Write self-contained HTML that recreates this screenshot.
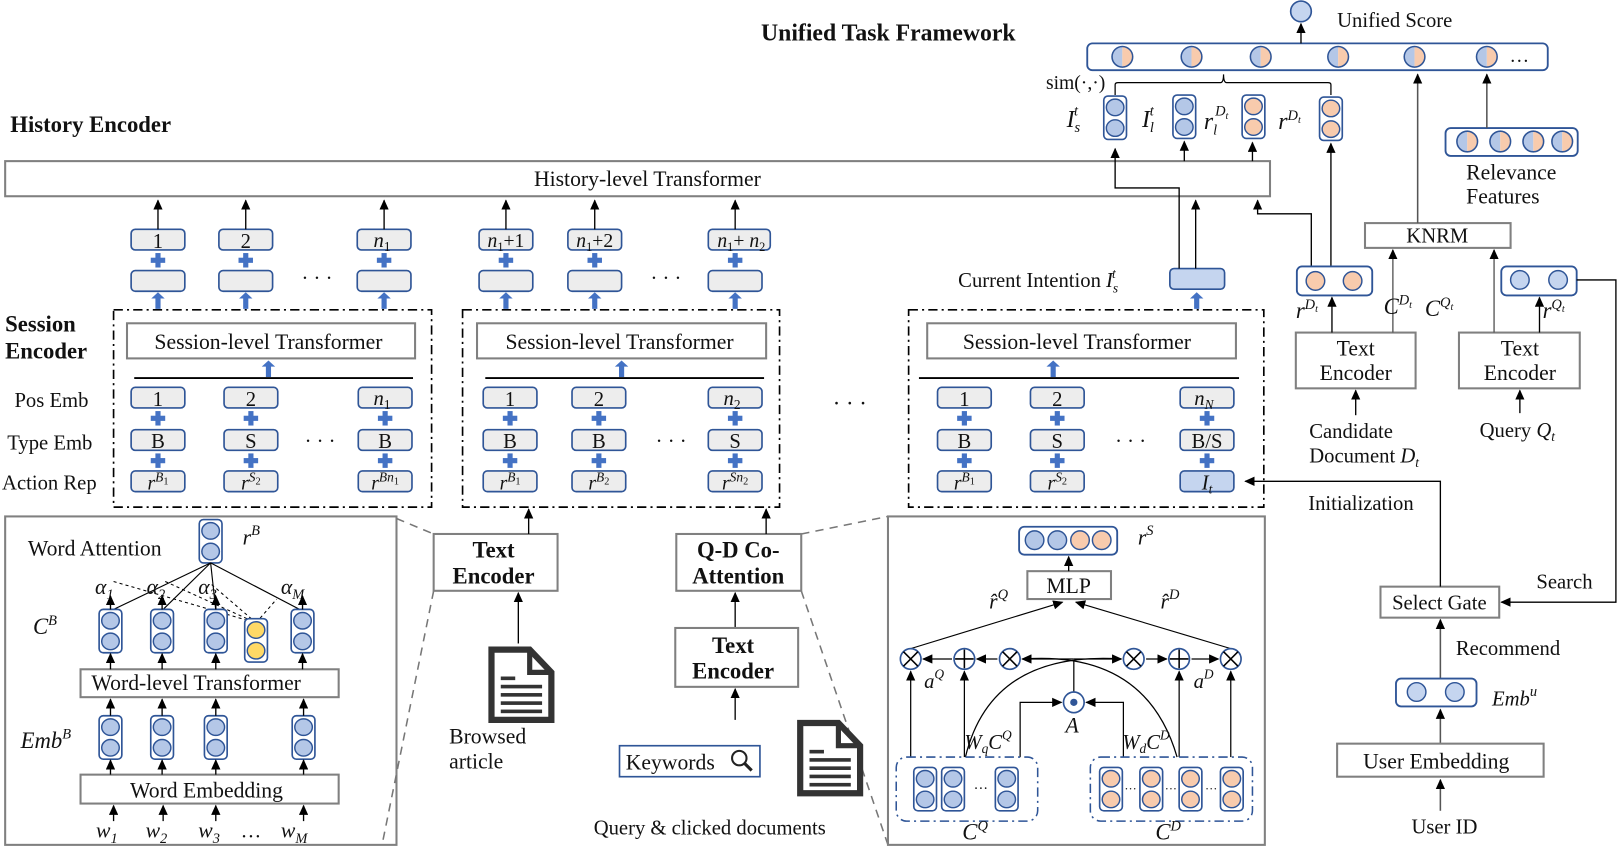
<!DOCTYPE html>
<html><head><meta charset="utf-8"><style>
html,body{margin:0;padding:0;background:#fff;}
svg{display:block;}
text{font-family:"Liberation Serif",serif;fill:#111;}
.i{font-style:italic;}
.b{font-weight:bold;}
</style></head><body>
<svg width="1619" height="849" viewBox="0 0 1568 822" preserveAspectRatio="none" xmlns="http://www.w3.org/2000/svg">
<defs>
<marker id="ar" markerWidth="10" markerHeight="9" refX="9" refY="4.5" orient="auto" markerUnits="userSpaceOnUse"><path d="M0,0 L10,4.5 L0,9 Z" fill="#000"/></marker>
<g id="vb"><rect x="-11" y="-21" width="22" height="42" rx="4" fill="#fff" stroke="#2f5597" stroke-width="1.6"/><ellipse cx="0" cy="-10" rx="8.5" ry="8" fill="#b4c7e7" stroke="#2f5597" stroke-width="1.4"/><ellipse cx="0" cy="10" rx="8.5" ry="8" fill="#b4c7e7" stroke="#2f5597" stroke-width="1.4"/></g>
<g id="vo"><rect x="-11" y="-21" width="22" height="42" rx="4" fill="#fff" stroke="#2f5597" stroke-width="1.6"/><ellipse cx="0" cy="-10" rx="8.5" ry="8" fill="#f8cbad" stroke="#2f5597" stroke-width="1.4"/><ellipse cx="0" cy="10" rx="8.5" ry="8" fill="#f8cbad" stroke="#2f5597" stroke-width="1.4"/></g>
<g id="vy"><rect x="-11" y="-21" width="22" height="42" rx="4" fill="#fff" stroke="#2f5597" stroke-width="1.6"/><ellipse cx="0" cy="-10" rx="8.5" ry="8" fill="#ffd966" stroke="#2f5597" stroke-width="1.4"/><ellipse cx="0" cy="10" rx="8.5" ry="8" fill="#ffd966" stroke="#2f5597" stroke-width="1.4"/></g>
<g id="hc"><path d="M0,-10 A10,10 0 0 0 0,10 Z" fill="#b4c7e7"/><path d="M0,-10 A10,10 0 0 1 0,10 Z" fill="#f8cbad"/><circle r="10" fill="none" stroke="#2f5597" stroke-width="1.5"/></g>
<g id="pl"><rect x="-7" y="-2.5" width="14" height="5" fill="#4472c4"/><rect x="-2.5" y="-7" width="5" height="14" fill="#4472c4"/></g>
<g id="ba"><path d="M-2.5,16 L-2.5,6 L-6.5,6 L0,0 L6.5,6 L2.5,6 L2.5,16 Z" fill="#4472c4"/></g>
<g id="tk"><rect x="-26" y="-10" width="52" height="20" rx="4" fill="#ededed" stroke="#2f5597" stroke-width="1.6"/></g>
<g id="tkw"><rect x="-30" y="-10" width="60" height="20" rx="4" fill="#ededed" stroke="#2f5597" stroke-width="1.6"/></g>
<g id="doc"><path d="M3,3 L40,3 L61,25 L61,71 L3,71 Z" fill="#fff" stroke="#333" stroke-width="6"/><path d="M40,3 L40,25 L61,25" fill="none" stroke="#333" stroke-width="5"/><rect x="12" y="29" width="14" height="3.5" fill="#333"/><rect x="12" y="37" width="40" height="3.5" fill="#333"/><rect x="12" y="45" width="40" height="3.5" fill="#333"/><rect x="12" y="53" width="40" height="3.5" fill="#333"/><rect x="12" y="61" width="40" height="3.5" fill="#333"/></g>
<g id="ot"><circle r="10" fill="#fff" stroke="#2f5597" stroke-width="1.6"/><path d="M-7,-7 L7,7 M7,-7 L-7,7" stroke="#000" stroke-width="1.5"/></g>
<g id="op"><circle r="10" fill="#fff" stroke="#2f5597" stroke-width="1.6"/><path d="M-9,0 L9,0 M0,-9 L0,9" stroke="#000" stroke-width="1.5"/></g>
</defs>

<!-- Titles -->
<text x="737" y="39" font-size="23" class="b">Unified Task Framework</text>
<text x="10" y="128" font-size="22" class="b">History Encoder</text>
<text x="5" y="321" font-size="22" class="b">Session</text>
<text x="5" y="347" font-size="22" class="b">Encoder</text>

<!-- History-level transformer -->
<rect x="5" y="156" width="1225" height="34" fill="#fff" stroke="#808080" stroke-width="2"/>
<text x="627" y="180" font-size="21" text-anchor="middle">History-level Transformer</text>

<!-- Group 1 tokens -->
<g>
<use href="#tk" x="153" y="232"/><use href="#tk" x="238" y="232"/><use href="#tk" x="372" y="232"/>
<use href="#pl" x="153" y="252"/><use href="#pl" x="238" y="252"/><use href="#pl" x="372" y="252"/>
<use href="#tk" x="153" y="272"/><use href="#tk" x="238" y="272"/><use href="#tk" x="372" y="272"/>
<use href="#ba" x="153" y="283"/><use href="#ba" x="238" y="283"/><use href="#ba" x="372" y="283"/>
<text x="153" y="240" font-size="20" text-anchor="middle">1</text>
<text x="238" y="240" font-size="20" text-anchor="middle">2</text>
<text x="370" y="239" font-size="20" text-anchor="middle"><tspan class="i">n</tspan><tspan font-size="13" dy="4">1</tspan></text>
<text x="307" y="276" font-size="20" text-anchor="middle">· · ·</text>
<use href="#tk" x="490" y="232"/><use href="#tk" x="576" y="232"/><use href="#tkw" x="716" y="232"/>
<use href="#pl" x="490" y="252"/><use href="#pl" x="576" y="252"/><use href="#pl" x="712" y="252"/>
<use href="#tk" x="490" y="272"/><use href="#tk" x="576" y="272"/><use href="#tk" x="712" y="272"/>
<use href="#ba" x="490" y="283"/><use href="#ba" x="576" y="283"/><use href="#ba" x="712" y="283"/>
<text x="490" y="239" font-size="19" text-anchor="middle"><tspan class="i">n</tspan><tspan font-size="12" dy="4">1</tspan><tspan dy="-4">+1</tspan></text>
<text x="576" y="239" font-size="19" text-anchor="middle"><tspan class="i">n</tspan><tspan font-size="12" dy="4">1</tspan><tspan dy="-4">+2</tspan></text>
<text x="718" y="239" font-size="19" text-anchor="middle"><tspan class="i">n</tspan><tspan font-size="12" dy="4">1</tspan><tspan dy="-4">+ </tspan><tspan class="i">n</tspan><tspan font-size="12" dy="4">2</tspan></text>
<text x="645" y="276" font-size="20" text-anchor="middle">· · ·</text>
<g stroke="#000" stroke-width="1.3" marker-end="url(#ar)">
<line x1="153" y1="222" x2="153" y2="194"/><line x1="238" y1="222" x2="238" y2="194"/><line x1="372" y1="222" x2="372" y2="194"/>
<line x1="490" y1="222" x2="490" y2="194"/><line x1="576" y1="222" x2="576" y2="194"/><line x1="712" y1="222" x2="712" y2="194"/>
</g>
</g>

<!-- Session boxes -->
<g fill="none" stroke="#000" stroke-width="1.6" stroke-dasharray="9,4,2,4">
<rect x="110" y="300" width="308" height="191"/>
<rect x="448" y="300" width="307" height="191"/>
<rect x="880" y="300" width="344" height="191"/>
</g>
<g fill="#fff" stroke="#808080" stroke-width="2">
<rect x="123" y="313" width="279" height="34"/>
<rect x="462" y="313" width="280" height="34"/>
<rect x="898" y="313" width="299" height="34"/>
</g>
<text x="260" y="338" font-size="21" text-anchor="middle">Session-level Transformer</text>
<text x="600" y="338" font-size="21" text-anchor="middle">Session-level Transformer</text>
<text x="1043" y="338" font-size="21" text-anchor="middle">Session-level Transformer</text>
<g stroke="#000" stroke-width="1.8"><line x1="130" y1="366" x2="400" y2="366"/><line x1="470" y1="366" x2="740" y2="366"/><line x1="890" y1="366" x2="1200" y2="366"/></g>
<use href="#ba" x="260" y="349"/><use href="#ba" x="602" y="349"/><use href="#ba" x="1020" y="349"/>
<text x="14" y="394" font-size="20">Pos  Emb</text>
<text x="7" y="435" font-size="20">Type Emb</text>
<text x="2" y="474" font-size="20">Action Rep</text>

<!-- session 1 columns -->
<g>
<use href="#tk" x="153" y="385"/><use href="#tk" x="243" y="385"/><use href="#tk" x="373" y="385"/>
<use href="#pl" x="153" y="405"/><use href="#pl" x="243" y="405"/><use href="#pl" x="373" y="405"/>
<use href="#tk" x="153" y="426"/><use href="#tk" x="243" y="426"/><use href="#tk" x="373" y="426"/>
<use href="#pl" x="153" y="446"/><use href="#pl" x="243" y="446"/><use href="#pl" x="373" y="446"/>
<use href="#tk" x="153" y="466"/><use href="#tk" x="243" y="466"/><use href="#tk" x="373" y="466"/>
<text x="153" y="393" font-size="20" text-anchor="middle">1</text>
<text x="243" y="393" font-size="20" text-anchor="middle">2</text>
<text x="370" y="392" font-size="20" text-anchor="middle"><tspan class="i">n</tspan><tspan font-size="13" dy="4">1</tspan></text>
<text x="153" y="434" font-size="20" text-anchor="middle">B</text>
<text x="243" y="434" font-size="20" text-anchor="middle">S</text>
<text x="373" y="434" font-size="20" text-anchor="middle">B</text>
<text x="153" y="474" font-size="19" text-anchor="middle"><tspan class="i">r</tspan><tspan font-size="13" dy="-8" class="i">B</tspan><tspan font-size="10" dy="3">1</tspan></text>
<text x="243" y="474" font-size="19" text-anchor="middle"><tspan class="i">r</tspan><tspan font-size="13" dy="-8" class="i">S</tspan><tspan font-size="10" dy="3">2</tspan></text>
<text x="373" y="474" font-size="19" text-anchor="middle"><tspan class="i">r</tspan><tspan font-size="13" dy="-8" class="i">Bn</tspan><tspan font-size="10" dy="3">1</tspan></text>
<text x="310" y="434" font-size="20" text-anchor="middle">· · ·</text>
</g>
<!-- session 2 -->
<g>
<use href="#tk" x="494" y="385"/><use href="#tk" x="580" y="385"/><use href="#tk" x="712" y="385"/>
<use href="#pl" x="494" y="405"/><use href="#pl" x="580" y="405"/><use href="#pl" x="712" y="405"/>
<use href="#tk" x="494" y="426"/><use href="#tk" x="580" y="426"/><use href="#tk" x="712" y="426"/>
<use href="#pl" x="494" y="446"/><use href="#pl" x="580" y="446"/><use href="#pl" x="712" y="446"/>
<use href="#tk" x="494" y="466"/><use href="#tk" x="580" y="466"/><use href="#tk" x="712" y="466"/>
<text x="494" y="393" font-size="20" text-anchor="middle">1</text>
<text x="580" y="393" font-size="20" text-anchor="middle">2</text>
<text x="709" y="392" font-size="20" text-anchor="middle"><tspan class="i">n</tspan><tspan font-size="13" dy="4">2</tspan></text>
<text x="494" y="434" font-size="20" text-anchor="middle">B</text>
<text x="580" y="434" font-size="20" text-anchor="middle">B</text>
<text x="712" y="434" font-size="20" text-anchor="middle">S</text>
<text x="494" y="474" font-size="19" text-anchor="middle"><tspan class="i">r</tspan><tspan font-size="13" dy="-8" class="i">B</tspan><tspan font-size="10" dy="3">1</tspan></text>
<text x="580" y="474" font-size="19" text-anchor="middle"><tspan class="i">r</tspan><tspan font-size="13" dy="-8" class="i">B</tspan><tspan font-size="10" dy="3">2</tspan></text>
<text x="712" y="474" font-size="19" text-anchor="middle"><tspan class="i">r</tspan><tspan font-size="13" dy="-8" class="i">Sn</tspan><tspan font-size="10" dy="3">2</tspan></text>
<text x="650" y="434" font-size="20" text-anchor="middle">· · ·</text>
</g>
<!-- session 3 -->
<g>
<use href="#tk" x="934" y="385"/><use href="#tk" x="1024" y="385"/><use href="#tk" x="1169" y="385"/>
<use href="#pl" x="934" y="405"/><use href="#pl" x="1024" y="405"/><use href="#pl" x="1169" y="405"/>
<use href="#tk" x="934" y="426"/><use href="#tk" x="1024" y="426"/><use href="#tk" x="1169" y="426"/>
<use href="#pl" x="934" y="446"/><use href="#pl" x="1024" y="446"/><use href="#pl" x="1169" y="446"/>
<use href="#tk" x="934" y="466"/><use href="#tk" x="1024" y="466"/>
<rect x="1143" y="456" width="52" height="20" rx="4" fill="#c5d5ef" stroke="#2f5597" stroke-width="1.6"/>
<text x="934" y="393" font-size="20" text-anchor="middle">1</text>
<text x="1024" y="393" font-size="20" text-anchor="middle">2</text>
<text x="1166" y="392" font-size="20" text-anchor="middle"><tspan class="i">n</tspan><tspan font-size="13" dy="4" class="i">N</tspan></text>
<text x="934" y="434" font-size="20" text-anchor="middle">B</text>
<text x="1024" y="434" font-size="20" text-anchor="middle">S</text>
<text x="1169" y="434" font-size="20" text-anchor="middle">B/S</text>
<text x="934" y="474" font-size="19" text-anchor="middle"><tspan class="i">r</tspan><tspan font-size="13" dy="-8" class="i">B</tspan><tspan font-size="10" dy="3">1</tspan></text>
<text x="1024" y="474" font-size="19" text-anchor="middle"><tspan class="i">r</tspan><tspan font-size="13" dy="-8" class="i">S</tspan><tspan font-size="10" dy="3">2</tspan></text>
<text x="1169" y="474" font-size="20" text-anchor="middle"><tspan class="i">I</tspan><tspan font-size="13" dy="4" class="i">t</tspan></text>
<text x="1095" y="434" font-size="20" text-anchor="middle">· · ·</text>
</g>
<text x="823" y="398" font-size="22" text-anchor="middle">· · ·</text>

<!-- Current intention -->
<text x="928" y="278" font-size="20">Current Intention <tspan class="i">I</tspan><tspan font-size="13" dy="5" class="i">s</tspan><tspan font-size="13" dx="-6" dy="-14" class="i">t</tspan></text>
<rect x="1133" y="260" width="53" height="20" rx="4" fill="#c5d5ef" stroke="#2f5597" stroke-width="1.6"/>
<use href="#ba" x="1159" y="283"/>
<g stroke="#000" stroke-width="1.3" fill="none">
<path d="M1142,260 L1142,182 L1080,182 L1080,144" marker-end="url(#ar)"/>
<path d="M1158,260 L1158,194" marker-end="url(#ar)"/>
<path d="M1147,156 L1147,137" marker-end="url(#ar)"/>
<path d="M1213,156 L1213,138" marker-end="url(#ar)"/>
<path d="M1270,258 L1270,207 L1218,207 L1218,194" marker-end="url(#ar)"/>
<path d="M1289,258 L1289,139" marker-end="url(#ar)"/>
</g>

<!-- Top right vectors -->
<use href="#vb" x="1080" y="114"/>
<use href="#vb" x="1147" y="113"/>
<use href="#vo" x="1214" y="113"/>
<use href="#vo" x="1289" y="115"/>
<text x="1033" y="123" font-size="23" class="i">I<tspan font-size="14" dy="5">s</tspan><tspan font-size="14" dx="-6" dy="-16">t</tspan></text>
<text x="1106" y="123" font-size="23" class="i">I<tspan font-size="14" dy="5">l</tspan><tspan font-size="14" dx="-4" dy="-16">t</tspan></text>
<text x="1166" y="125" font-size="23" class="i">r<tspan font-size="14" dy="5">l</tspan><tspan font-size="14" dx="-2" dy="-18">D</tspan><tspan font-size="10" dy="3">t</tspan></text>
<text x="1238" y="125" font-size="23" class="i">r<tspan font-size="14" dy="-9">D</tspan><tspan font-size="10" dy="3">t</tspan></text>
<path d="M1080,92 L1080,82 Q1080,80 1083,80 L1182,80 Q1185,80 1185,72 Q1185,80 1188,80 L1286,80 Q1289,80 1289,82 L1289,92" fill="none" stroke="#000" stroke-width="1.2"/>
<text x="1013" y="86" font-size="19">sim(·,·)</text>

<!-- Unified score row -->
<rect x="1053" y="42" width="446" height="26" rx="5" fill="#fff" stroke="#2f5597" stroke-width="1.8"/>
<use href="#hc" x="1087" y="55"/><use href="#hc" x="1154" y="55"/><use href="#hc" x="1221" y="55"/><use href="#hc" x="1296" y="55"/><use href="#hc" x="1370" y="55"/><use href="#hc" x="1440" y="55"/>
<text x="1462" y="60" font-size="19">…</text>
<circle cx="1260" cy="11" r="10" fill="#c5d5ef" stroke="#2f5597" stroke-width="1.6"/>
<line x1="1260" y1="42" x2="1260" y2="23" stroke="#000" stroke-width="1.3" marker-end="url(#ar)"/>
<text x="1295" y="26" font-size="20">Unified Score</text>

<!-- KNRM / relevance -->
<rect x="1322" y="216" width="141" height="24" fill="#fff" stroke="#808080" stroke-width="2"/>
<text x="1392" y="235" font-size="20" text-anchor="middle">KNRM</text>
<line x1="1373" y1="216" x2="1373" y2="72" stroke="#555" stroke-width="1.5" marker-end="url(#ar)"/>
<rect x="1400" y="124" width="128" height="27" rx="5" fill="#fff" stroke="#2f5597" stroke-width="1.8"/>
<use href="#hc" x="1421" y="137"/><use href="#hc" x="1453" y="137"/><use href="#hc" x="1485" y="137"/><use href="#hc" x="1513" y="137"/>
<line x1="1440" y1="124" x2="1440" y2="72" stroke="#555" stroke-width="1.5" marker-end="url(#ar)"/>
<text x="1420" y="174" font-size="21">Relevance</text>
<text x="1420" y="197" font-size="21">Features</text>

<!-- Candidate doc / query encoders -->
<rect x="1256" y="258" width="73" height="28" rx="5" fill="#fff" stroke="#2f5597" stroke-width="1.8"/>
<circle cx="1274" cy="272" r="9" fill="#f8cbad" stroke="#2f5597" stroke-width="1.4"/><circle cx="1310" cy="272" r="9" fill="#f8cbad" stroke="#2f5597" stroke-width="1.4"/>
<rect x="1454" y="258" width="73" height="28" rx="5" fill="#fff" stroke="#2f5597" stroke-width="1.8"/>
<circle cx="1472" cy="271" r="9" fill="#c5d5ef" stroke="#2f5597" stroke-width="1.4"/><circle cx="1509" cy="271" r="9" fill="#c5d5ef" stroke="#2f5597" stroke-width="1.4"/>
<rect x="1255" y="322" width="116" height="54" fill="#fff" stroke="#808080" stroke-width="2"/>
<text x="1313" y="344" font-size="21" text-anchor="middle">Text</text><text x="1313" y="368" font-size="21" text-anchor="middle">Encoder</text>
<rect x="1413" y="322" width="117" height="54" fill="#fff" stroke="#808080" stroke-width="2"/>
<text x="1472" y="344" font-size="21" text-anchor="middle">Text</text><text x="1472" y="368" font-size="21" text-anchor="middle">Encoder</text>
<g stroke="#000" stroke-width="1.3" fill="none" marker-end="url(#ar)">
<line x1="1290" y1="322" x2="1290" y2="288"/>
<line x1="1349" y1="322" x2="1349" y2="242" stroke="#555"/>
<line x1="1447" y1="322" x2="1447" y2="242" stroke="#555"/>
<line x1="1491" y1="322" x2="1491" y2="288"/>
<line x1="1313" y1="402" x2="1313" y2="378"/>
<line x1="1472" y1="400" x2="1472" y2="378"/>
</g>
<text x="1255" y="308" font-size="22" class="i">r<tspan font-size="14" dy="-9">D</tspan><tspan font-size="10" dy="3">t</tspan></text>
<text x="1340" y="304" font-size="22" class="i">C<tspan font-size="14" dy="-9">D</tspan><tspan font-size="10" dy="3">t</tspan></text>
<text x="1380" y="306" font-size="22" class="i">C<tspan font-size="14" dy="-9">Q</tspan><tspan font-size="10" dy="3">t</tspan></text>
<text x="1494" y="308" font-size="22" class="i">r<tspan font-size="14" dy="-9">Q</tspan><tspan font-size="10" dy="3">t</tspan></text>
<text x="1268" y="424" font-size="20">Candidate</text>
<text x="1268" y="448" font-size="20">Document <tspan class="i">D</tspan><tspan font-size="13" dy="4" class="i">t</tspan></text>
<text x="1433" y="423" font-size="20">Query <tspan class="i">Q</tspan><tspan font-size="13" dy="4" class="i">t</tspan></text>

<!-- Select gate chain -->
<path d="M1527,271 L1565,271 L1565,583 L1454,583" fill="none" stroke="#000" stroke-width="1.3" marker-end="url(#ar)"/>
<text x="1488" y="570" font-size="20">Search</text>
<rect x="1337" y="568" width="115" height="30" fill="#fff" stroke="#808080" stroke-width="2"/>
<text x="1394" y="590" font-size="20" text-anchor="middle">Select Gate</text>
<path d="M1395,568 L1395,466 L1206,466" fill="none" stroke="#000" stroke-width="1.3" marker-end="url(#ar)"/>
<text x="1267" y="494" font-size="20">Initialization</text>
<line x1="1395" y1="657" x2="1395" y2="600" stroke="#555" stroke-width="1.5" marker-end="url(#ar)"/>
<text x="1410" y="634" font-size="20">Recommend</text>
<rect x="1352" y="657" width="78" height="27" rx="5" fill="#fff" stroke="#2f5597" stroke-width="1.8"/>
<circle cx="1372" cy="670" r="9" fill="#c5d5ef" stroke="#2f5597" stroke-width="1.4"/><circle cx="1409" cy="670" r="9" fill="#c5d5ef" stroke="#2f5597" stroke-width="1.4"/>
<text x="1445" y="683" font-size="20" class="i">Emb<tspan font-size="14" dy="-9">u</tspan></text>
<line x1="1395" y1="720" x2="1395" y2="687" stroke="#555" stroke-width="1.5" marker-end="url(#ar)"/>
<rect x="1295" y="720" width="200" height="32" fill="#fff" stroke="#808080" stroke-width="2"/>
<text x="1391" y="744" font-size="21" text-anchor="middle">User Embedding</text>
<line x1="1395" y1="785" x2="1395" y2="755" stroke="#555" stroke-width="1.5" marker-end="url(#ar)"/>
<text x="1367" y="807" font-size="20">User ID</text>

<!-- Bottom-left panel -->
<rect x="5" y="500" width="379" height="318" fill="none" stroke="#808080" stroke-width="2"/>
<text x="27" y="538" font-size="21">Word Attention</text>
<use href="#vb" x="204" y="524"/>
<text x="235" y="527" font-size="21" class="i">r<tspan font-size="14" dy="-9">B</tspan></text>
<g stroke="#000" stroke-width="1.1">
<line x1="204" y1="545" x2="108" y2="591"/><line x1="204" y1="545" x2="157" y2="591"/><line x1="204" y1="545" x2="209" y2="591"/><line x1="204" y1="545" x2="292" y2="591"/>
</g>
<g stroke="#000" stroke-width="1" stroke-dasharray="3,3">
<line x1="110" y1="563" x2="248" y2="603"/><line x1="160" y1="563" x2="248" y2="603"/><line x1="205" y1="566" x2="248" y2="603"/><line x1="248" y1="603" x2="268" y2="580"/>
</g>
<text x="92" y="575" font-size="21" class="i">α<tspan font-size="14" dy="5">1</tspan></text>
<text x="142" y="575" font-size="21" class="i">α<tspan font-size="14" dy="5">2</tspan></text>
<text x="192" y="575" font-size="21" class="i">α<tspan font-size="14" dy="5">3</tspan></text>
<text x="272" y="575" font-size="21" class="i">α<tspan font-size="14" dy="5">M</tspan></text>
<use href="#vb" x="107" y="611"/><use href="#vb" x="157" y="611"/><use href="#vb" x="209" y="611"/><use href="#vy" x="248" y="620"/><use href="#vb" x="293" y="611"/>
<text x="236" y="664" font-size="21" class="i">q<tspan font-size="14" dy="5">w</tspan></text>
<text x="32" y="614" font-size="22" class="i">C<tspan font-size="14" dy="-9">B</tspan></text>
<rect x="78" y="648" width="250" height="27" fill="#fff" stroke="#808080" stroke-width="2"/>
<text x="190" y="668" font-size="21" text-anchor="middle">Word-level Transformer</text>
<use href="#vb" x="107" y="714"/><use href="#vb" x="157" y="714"/><use href="#vb" x="209" y="714"/><use href="#vb" x="294" y="714"/>
<text x="20" y="724" font-size="22" class="i">Emb<tspan font-size="14" dy="-9">B</tspan></text>
<rect x="78" y="750" width="250" height="28" fill="#fff" stroke="#808080" stroke-width="2"/>
<text x="200" y="772" font-size="21" text-anchor="middle">Word Embedding</text>
<g stroke="#000" stroke-width="1.3" marker-end="url(#ar)">
<line x1="107" y1="590" x2="107" y2="577"/><line x1="157" y1="590" x2="157" y2="577"/><line x1="209" y1="590" x2="209" y2="577"/><line x1="293" y1="590" x2="293" y2="577"/>
<line x1="107" y1="648" x2="107" y2="633"/><line x1="157" y1="648" x2="157" y2="633"/><line x1="209" y1="648" x2="209" y2="633"/><line x1="293" y1="648" x2="293" y2="633"/>
<line x1="107" y1="693" x2="107" y2="677"/><line x1="157" y1="693" x2="157" y2="677"/><line x1="209" y1="693" x2="209" y2="677"/><line x1="294" y1="693" x2="294" y2="677"/>
<line x1="107" y1="750" x2="107" y2="736"/><line x1="157" y1="750" x2="157" y2="736"/><line x1="209" y1="750" x2="209" y2="736"/><line x1="294" y1="750" x2="294" y2="736"/>
<line x1="110" y1="795" x2="110" y2="780"/><line x1="158" y1="795" x2="158" y2="780"/><line x1="209" y1="795" x2="209" y2="780"/><line x1="294" y1="795" x2="294" y2="780"/>
</g>
<text x="93" y="811" font-size="21" class="i">w<tspan font-size="14" dy="5">1</tspan></text>
<text x="141" y="811" font-size="21" class="i">w<tspan font-size="14" dy="5">2</tspan></text>
<text x="192" y="811" font-size="21" class="i">w<tspan font-size="14" dy="5">3</tspan></text>
<text x="233" y="811" font-size="20">…</text>
<text x="272" y="811" font-size="21" class="i">w<tspan font-size="14" dy="5">M</tspan></text>

<!-- zoom dashed lines -->
<g stroke="#777" stroke-width="1.5" stroke-dasharray="8,6" fill="none">
<line x1="384" y1="502" x2="420" y2="517"/><line x1="420" y1="572" x2="370" y2="818"/>
<line x1="776" y1="517" x2="860" y2="500"/><line x1="776" y1="572" x2="860" y2="818"/>
</g>

<!-- middle encoders -->
<rect x="420" y="517" width="120" height="55" fill="#fff" stroke="#808080" stroke-width="2"/>
<text x="478" y="540" font-size="22" class="b" text-anchor="middle">Text</text>
<text x="478" y="565" font-size="22" class="b" text-anchor="middle">Encoder</text>
<line x1="512" y1="517" x2="512" y2="493" stroke="#000" stroke-width="1.3" marker-end="url(#ar)"/>
<line x1="502" y1="623" x2="502" y2="574" stroke="#000" stroke-width="1.3" marker-end="url(#ar)"/>
<use href="#doc" x="473" y="626"/>
<text x="435" y="720" font-size="21">Browsed</text>
<text x="435" y="744" font-size="21">article</text>

<rect x="655" y="517" width="121" height="55" fill="#fff" stroke="#808080" stroke-width="2"/>
<text x="715" y="540" font-size="22" class="b" text-anchor="middle">Q-D Co-</text>
<text x="715" y="565" font-size="22" class="b" text-anchor="middle">Attention</text>
<line x1="742" y1="517" x2="742" y2="493" stroke="#000" stroke-width="1.3" marker-end="url(#ar)"/>
<line x1="712" y1="608" x2="712" y2="574" stroke="#000" stroke-width="1.3" marker-end="url(#ar)"/>
<rect x="654" y="608" width="119" height="57" fill="#fff" stroke="#808080" stroke-width="2"/>
<text x="710" y="632" font-size="22" class="b" text-anchor="middle">Text</text>
<text x="710" y="657" font-size="22" class="b" text-anchor="middle">Encoder</text>
<line x1="712" y1="697" x2="712" y2="667" stroke="#000" stroke-width="1.3" marker-end="url(#ar)"/>
<rect x="600" y="722" width="136" height="30" fill="#fff" stroke="#2f5597" stroke-width="1.6"/>
<text x="606" y="745" font-size="21">Keywords</text>
<circle cx="716" cy="734" r="7" fill="none" stroke="#222" stroke-width="2"/>
<line x1="721" y1="739" x2="728" y2="746" stroke="#222" stroke-width="3"/>
<use href="#doc" x="772" y="697"/>
<text x="575" y="808" font-size="20">Query &amp; clicked documents</text>

<!-- Bottom-right panel -->
<rect x="860" y="500" width="365" height="318" fill="none" stroke="#808080" stroke-width="2"/>
<rect x="987" y="510" width="95" height="27" rx="5" fill="#fff" stroke="#2f5597" stroke-width="1.8"/>
<circle cx="1002" cy="523" r="9" fill="#b4c7e7" stroke="#2f5597" stroke-width="1.4"/>
<circle cx="1024" cy="523" r="9" fill="#b4c7e7" stroke="#2f5597" stroke-width="1.4"/>
<circle cx="1046" cy="523" r="9" fill="#f8cbad" stroke="#2f5597" stroke-width="1.4"/>
<circle cx="1067" cy="523" r="9" fill="#f8cbad" stroke="#2f5597" stroke-width="1.4"/>
<text x="1102" y="527" font-size="21" class="i">r<tspan font-size="14" dy="-9">S</tspan></text>
<rect x="995" y="553" width="81" height="27" fill="#fff" stroke="#808080" stroke-width="2"/>
<text x="1035" y="574" font-size="21" text-anchor="middle">MLP</text>
<line x1="1035" y1="553" x2="1035" y2="539" stroke="#000" stroke-width="1.3" marker-end="url(#ar)"/>
<g stroke="#000" stroke-width="1.1" fill="none" marker-end="url(#ar)">
<line x1="882" y1="628" x2="1029" y2="583"/>
<line x1="1192" y1="628" x2="1042" y2="583"/>
</g>
<text x="958" y="589" font-size="21" class="i">r̂<tspan font-size="14" dy="-9">Q</tspan></text>
<text x="1124" y="589" font-size="21" class="i">r̂<tspan font-size="14" dy="-9">D</tspan></text>
<g stroke="#000" stroke-width="1.2" fill="none" marker-end="url(#ar)">
<line x1="966" y1="638" x2="946" y2="638"/>
<line x1="922" y1="638" x2="894" y2="638"/>
<line x1="1040" y1="638" x2="990" y2="638"/>
<line x1="1040" y1="638" x2="1086" y2="638"/>
<line x1="1110" y1="638" x2="1130" y2="638"/>
<line x1="1154" y1="638" x2="1180" y2="638"/>
<line x1="1040" y1="672" x2="1040" y2="639" marker-end="none"/>
<line x1="882" y1="733" x2="882" y2="650"/>
<line x1="934" y1="733" x2="934" y2="650"/>
<line x1="1142" y1="733" x2="1142" y2="650"/>
<line x1="1192" y1="733" x2="1192" y2="650"/>
<path d="M988,733 L988,680 L1028,680"/>
<path d="M1088,733 L1088,680 L1052,680"/>
<path d="M935,733 Q960,630 1086,638" marker-end="none"/>
<path d="M1140,733 Q1110,630 992,638" marker-end="none"/>
</g>
<use href="#ot" x="882" y="638"/><use href="#op" x="934" y="638"/><use href="#ot" x="978" y="638"/>
<use href="#ot" x="1098" y="638"/><use href="#op" x="1142" y="638"/><use href="#ot" x="1192" y="638"/>
<circle cx="1040" cy="680" r="10" fill="#fff" stroke="#2f5597" stroke-width="1.6"/><circle cx="1040" cy="680" r="3.5" fill="#2f5597"/>
<text x="1032" y="709" font-size="21" class="i">A</text>
<text x="895" y="666" font-size="20" class="i">a<tspan font-size="13" dy="-9">Q</tspan></text>
<text x="1156" y="666" font-size="20" class="i">a<tspan font-size="13" dy="-9">D</tspan></text>
<text x="934" y="725" font-size="20" class="i">W<tspan font-size="13" dy="4">q</tspan><tspan dy="-4">C</tspan><tspan font-size="13" dy="-9">Q</tspan></text>
<text x="1087" y="725" font-size="20" class="i">W<tspan font-size="13" dy="4">d</tspan><tspan dy="-4">C</tspan><tspan font-size="13" dy="-9">D</tspan></text>
<g fill="none" stroke="#2f5597" stroke-width="1.5" stroke-dasharray="9,4,2,4">
<rect x="868" y="733" width="137" height="62" rx="10"/>
<rect x="1056" y="733" width="157" height="62" rx="10"/>
</g>
<use href="#vb" x="896" y="764"/><use href="#vb" x="923" y="764"/><use href="#vb" x="975" y="764"/>
<text x="950" y="768" font-size="14" text-anchor="middle">···</text>
<use href="#vo" x="1076" y="764"/><use href="#vo" x="1115" y="764"/><use href="#vo" x="1153" y="764"/><use href="#vo" x="1193" y="764"/>
<text x="1095" y="768" font-size="12" text-anchor="middle">···</text>
<text x="1134" y="768" font-size="12" text-anchor="middle">···</text>
<text x="1173" y="768" font-size="12" text-anchor="middle">···</text>
<text x="932" y="813" font-size="22" class="i">C<tspan font-size="14" dy="-9">Q</tspan></text>
<text x="1119" y="813" font-size="22" class="i">C<tspan font-size="14" dy="-9">D</tspan></text>
</svg>
</body></html>
